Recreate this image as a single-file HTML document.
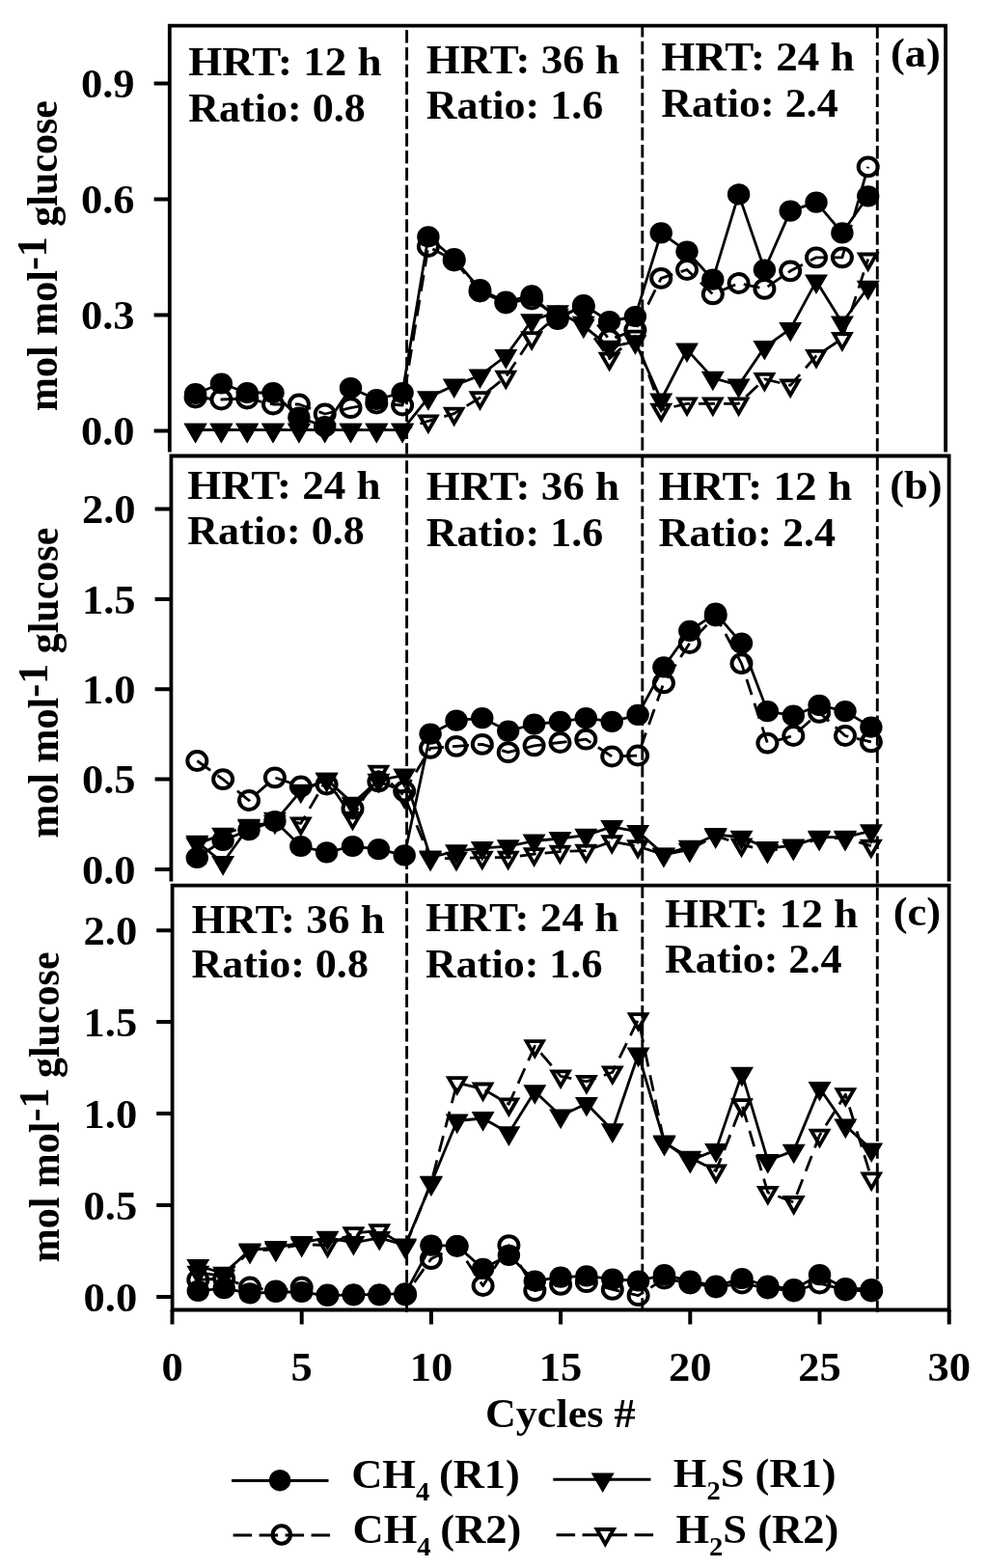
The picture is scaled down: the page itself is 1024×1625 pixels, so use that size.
<!DOCTYPE html><html><head><meta charset="utf-8"><title>Figure</title><style>html,body{margin:0;padding:0;background:#fff;}svg{display:block}text{font-family:"Liberation Serif","Times New Roman",serif;font-weight:bold;}</style></head><body>
<svg width="1024" height="1625" viewBox="0 0 1024 1625">
<rect width="1024" height="1625" fill="#fff"/>
<g fill="none" stroke="#000" stroke-width="2.8" stroke-linejoin="round">
<polyline points="202.6,445.6 229.4,445.6 256.2,445.6 283,445.6 309.9,445.6 336.7,445.6 363.5,445.6 390.3,445.6 417.1,445.6 443.9,436.3 470.7,428.6 497.5,412.1 524.3,390.6 551.1,350.1 578,326.6 604.8,334.6 631.6,371.6 658.4,348.6 685.2,424.6 712,418.3 738.8,418.3 765.6,418.3 792.4,392.9 819.2,399.3 846,368.8 872.9,351 899.7,268.5" stroke-dasharray="17 9"/>
</g>
<path fill="none" stroke="#000" stroke-width="3.8" stroke-linejoin="miter" d="M193.9 440.6h17.4l-8.7 15.1zM220.7 440.6h17.4l-8.7 15.1zM247.5 440.6h17.4l-8.7 15.1zM274.3 440.6h17.4l-8.7 15.1zM301.2 440.6h17.4l-8.7 15.1zM328 440.6h17.4l-8.7 15.1zM354.8 440.6h17.4l-8.7 15.1zM381.6 440.6h17.4l-8.7 15.1zM408.4 440.6h17.4l-8.7 15.1zM435.2 431.3h17.4l-8.7 15.1zM462 423.6h17.4l-8.7 15.1zM488.8 407.1h17.4l-8.7 15.1zM515.6 385.6h17.4l-8.7 15.1zM542.4 345.1h17.4l-8.7 15.1zM569.2 321.6h17.4l-8.7 15.1zM596.1 329.6h17.4l-8.7 15.1zM622.9 366.6h17.4l-8.7 15.1zM649.7 343.6h17.4l-8.7 15.1zM676.5 419.6h17.4l-8.7 15.1zM703.3 413.3h17.4l-8.7 15.1zM730.1 413.3h17.4l-8.7 15.1zM756.9 413.3h17.4l-8.7 15.1zM783.7 387.9h17.4l-8.7 15.1zM810.5 394.3h17.4l-8.7 15.1zM837.3 363.8h17.4l-8.7 15.1zM864.2 346h17.4l-8.7 15.1zM891 263.5h17.4l-8.7 15.1z"/>
<polyline fill="none" stroke="#000" stroke-width="2.8" stroke-linejoin="round" points="202.6,445.6 229.4,445.6 256.2,445.6 283,445.6 309.9,445.6 336.7,445.6 363.5,445.6 390.3,445.6 417.1,445.6 443.9,412.1 470.7,399.4 497.5,389.3 524.3,369 551.1,332.1 578,323.1 604.8,337.6 631.6,359.6 658.4,354.1 685.2,414.5 712,362.4 738.8,391.6 765.6,399.3 792.4,359.9 819.2,340.9 846,291.3 872.9,334.5 899.7,297.7"/>
<path fill="#000" d="M190.6 438.7h24l-12 20.6zM217.4 438.7h24l-12 20.6zM244.2 438.7h24l-12 20.6zM271 438.7h24l-12 20.6zM297.9 438.7h24l-12 20.6zM324.7 438.7h24l-12 20.6zM351.5 438.7h24l-12 20.6zM378.3 438.7h24l-12 20.6zM405.1 438.7h24l-12 20.6zM431.9 405.2h24l-12 20.6zM458.7 392.5h24l-12 20.6zM485.5 382.4h24l-12 20.6zM512.3 362.1h24l-12 20.6zM539.1 325.2h24l-12 20.6zM566 316.2h24l-12 20.6zM592.8 330.7h24l-12 20.6zM619.6 352.7h24l-12 20.6zM646.4 347.2h24l-12 20.6zM673.2 407.6h24l-12 20.6zM700 355.5h24l-12 20.6zM726.8 384.7h24l-12 20.6zM753.6 392.4h24l-12 20.6zM780.4 353h24l-12 20.6zM807.2 334h24l-12 20.6zM834 284.4h24l-12 20.6zM860.9 327.6h24l-12 20.6zM887.7 290.8h24l-12 20.6z"/>
<polyline fill="none" stroke="#000" stroke-width="2.8" stroke-linejoin="round" stroke-dasharray="17 9" points="202.6,412 229.4,414 256.2,413 283,419 309.9,419 336.7,429 363.5,422.7 390.3,418 417.1,420 443.9,255.5 470.7,270 497.5,302 524.3,314 551.1,310 578,328 604.8,318 631.6,352 658.4,342 685.2,288.4 712,279.5 738.8,304.9 765.6,293.5 792.4,299.3 819.2,280.8 846,266.8 872.9,266.8 899.7,172.9"/>
<g fill="none" stroke="#000" stroke-width="4"><ellipse cx="202.6" cy="412" rx="10" ry="9.4"/><ellipse cx="229.4" cy="414" rx="10" ry="9.4"/><ellipse cx="256.2" cy="413" rx="10" ry="9.4"/><ellipse cx="283" cy="419" rx="10" ry="9.4"/><ellipse cx="309.9" cy="419" rx="10" ry="9.4"/><ellipse cx="336.7" cy="429" rx="10" ry="9.4"/><ellipse cx="363.5" cy="422.7" rx="10" ry="9.4"/><ellipse cx="390.3" cy="418" rx="10" ry="9.4"/><ellipse cx="417.1" cy="420" rx="10" ry="9.4"/><ellipse cx="443.9" cy="255.5" rx="10" ry="9.4"/><ellipse cx="470.7" cy="270" rx="10" ry="9.4"/><ellipse cx="497.5" cy="302" rx="10" ry="9.4"/><ellipse cx="524.3" cy="314" rx="10" ry="9.4"/><ellipse cx="551.1" cy="310" rx="10" ry="9.4"/><ellipse cx="578" cy="328" rx="10" ry="9.4"/><ellipse cx="604.8" cy="318" rx="10" ry="9.4"/><ellipse cx="631.6" cy="352" rx="10" ry="9.4"/><ellipse cx="658.4" cy="342" rx="10" ry="9.4"/><ellipse cx="685.2" cy="288.4" rx="10" ry="9.4"/><ellipse cx="712" cy="279.5" rx="10" ry="9.4"/><ellipse cx="738.8" cy="304.9" rx="10" ry="9.4"/><ellipse cx="765.6" cy="293.5" rx="10" ry="9.4"/><ellipse cx="792.4" cy="299.3" rx="10" ry="9.4"/><ellipse cx="819.2" cy="280.8" rx="10" ry="9.4"/><ellipse cx="846" cy="266.8" rx="10" ry="9.4"/><ellipse cx="872.9" cy="266.8" rx="10" ry="9.4"/><ellipse cx="899.7" cy="172.9" rx="10" ry="9.4"/></g>
<polyline fill="none" stroke="#000" stroke-width="2.8" stroke-linejoin="round" points="202.6,408 229.4,397.5 256.2,407 283,407 309.9,432.5 336.7,442 363.5,402 390.3,414 417.1,407 443.9,245.4 470.7,268.2 497.5,300 524.3,312.7 551.1,306.3 578,331 604.8,316 631.6,333 658.4,328 685.2,241.4 712,260.5 738.8,289.7 765.6,201.4 792.4,279.5 819.2,218.6 846,209.7 872.9,241.4 899.7,203.3"/>
<g fill="#000"><ellipse cx="202.6" cy="408" rx="11.7" ry="11.1"/><ellipse cx="229.4" cy="397.5" rx="11.7" ry="11.1"/><ellipse cx="256.2" cy="407" rx="11.7" ry="11.1"/><ellipse cx="283" cy="407" rx="11.7" ry="11.1"/><ellipse cx="309.9" cy="432.5" rx="11.7" ry="11.1"/><ellipse cx="336.7" cy="442" rx="11.7" ry="11.1"/><ellipse cx="363.5" cy="402" rx="11.7" ry="11.1"/><ellipse cx="390.3" cy="414" rx="11.7" ry="11.1"/><ellipse cx="417.1" cy="407" rx="11.7" ry="11.1"/><ellipse cx="443.9" cy="245.4" rx="11.7" ry="11.1"/><ellipse cx="470.7" cy="268.2" rx="11.7" ry="11.1"/><ellipse cx="497.5" cy="300" rx="11.7" ry="11.1"/><ellipse cx="524.3" cy="312.7" rx="11.7" ry="11.1"/><ellipse cx="551.1" cy="306.3" rx="11.7" ry="11.1"/><ellipse cx="578" cy="331" rx="11.7" ry="11.1"/><ellipse cx="604.8" cy="316" rx="11.7" ry="11.1"/><ellipse cx="631.6" cy="333" rx="11.7" ry="11.1"/><ellipse cx="658.4" cy="328" rx="11.7" ry="11.1"/><ellipse cx="685.2" cy="241.4" rx="11.7" ry="11.1"/><ellipse cx="712" cy="260.5" rx="11.7" ry="11.1"/><ellipse cx="738.8" cy="289.7" rx="11.7" ry="11.1"/><ellipse cx="765.6" cy="201.4" rx="11.7" ry="11.1"/><ellipse cx="792.4" cy="279.5" rx="11.7" ry="11.1"/><ellipse cx="819.2" cy="218.6" rx="11.7" ry="11.1"/><ellipse cx="846" cy="209.7" rx="11.7" ry="11.1"/><ellipse cx="872.9" cy="241.4" rx="11.7" ry="11.1"/><ellipse cx="899.7" cy="203.3" rx="11.7" ry="11.1"/></g>
<g fill="none" stroke="#000" stroke-width="2.8" stroke-linejoin="round">
<polyline points="204.3,874.6 231.1,864.6 258,855.6 284.9,848.6 311.8,853.3 338.6,807.6 365.5,847.6 392.4,799.6 419.2,825.1 446.1,889.6 473,889.6 499.8,888.6 526.7,888.6 553.6,885.1 580.5,882.6 607.3,881.6 634.2,872.1 661.1,877.1 687.9,885.6 714.8,880.6 741.7,866.1 768.5,875.4 795.4,881.6 822.3,878.6 849.1,868.6 876,868.6 902.9,876.7" stroke-dasharray="17 9"/>
</g>
<path fill="none" stroke="#000" stroke-width="3.8" stroke-linejoin="miter" d="M195.6 869.6h17.4l-8.7 15.1zM222.4 859.6h17.4l-8.7 15.1zM249.3 850.6h17.4l-8.7 15.1zM276.2 843.6h17.4l-8.7 15.1zM303.1 848.3h17.4l-8.7 15.1zM329.9 802.6h17.4l-8.7 15.1zM356.8 842.6h17.4l-8.7 15.1zM383.7 794.6h17.4l-8.7 15.1zM410.5 820.1h17.4l-8.7 15.1zM437.4 884.6h17.4l-8.7 15.1zM464.3 884.6h17.4l-8.7 15.1zM491.1 883.6h17.4l-8.7 15.1zM518 883.6h17.4l-8.7 15.1zM544.9 880.1h17.4l-8.7 15.1zM571.8 877.6h17.4l-8.7 15.1zM598.6 876.6h17.4l-8.7 15.1zM625.5 867.1h17.4l-8.7 15.1zM652.4 872.1h17.4l-8.7 15.1zM679.2 880.6h17.4l-8.7 15.1zM706.1 875.6h17.4l-8.7 15.1zM733 861.1h17.4l-8.7 15.1zM759.8 870.4h17.4l-8.7 15.1zM786.7 876.6h17.4l-8.7 15.1zM813.6 873.6h17.4l-8.7 15.1zM840.4 863.6h17.4l-8.7 15.1zM867.3 863.6h17.4l-8.7 15.1zM894.2 871.7h17.4l-8.7 15.1z"/>
<polyline fill="none" stroke="#000" stroke-width="2.8" stroke-linejoin="round" points="204.3,872.6 231.1,894 258,856.6 284.9,851.6 311.8,819.6 338.6,807.6 365.5,832.6 392.4,808.6 419.2,803.3 446.1,888.5 473,882.2 499.8,878.9 526.7,877.1 553.6,871.5 580.5,869 607.3,865.7 634.2,856.8 661.1,861.9 687.9,885.3 714.8,877.7 741.7,865 768.5,867.6 795.4,879 822.3,876.4 849.1,867.6 876,867.6 902.9,861.2"/>
<path fill="#000" d="M192.3 865.7h24l-12 20.6zM219.1 887.1h24l-12 20.6zM246 849.7h24l-12 20.6zM272.9 844.7h24l-12 20.6zM299.8 812.7h24l-12 20.6zM326.6 800.7h24l-12 20.6zM353.5 825.7h24l-12 20.6zM380.4 801.7h24l-12 20.6zM407.2 796.4h24l-12 20.6zM434.1 881.6h24l-12 20.6zM461 875.3h24l-12 20.6zM487.8 872h24l-12 20.6zM514.7 870.2h24l-12 20.6zM541.6 864.6h24l-12 20.6zM568.5 862.1h24l-12 20.6zM595.3 858.8h24l-12 20.6zM622.2 849.9h24l-12 20.6zM649.1 855h24l-12 20.6zM675.9 878.4h24l-12 20.6zM702.8 870.8h24l-12 20.6zM729.7 858.1h24l-12 20.6zM756.5 860.7h24l-12 20.6zM783.4 872.1h24l-12 20.6zM810.3 869.5h24l-12 20.6zM837.1 860.7h24l-12 20.6zM864 860.7h24l-12 20.6zM890.9 854.3h24l-12 20.6z"/>
<polyline fill="none" stroke="#000" stroke-width="2.8" stroke-linejoin="round" stroke-dasharray="17 9" points="204.3,788.5 231.1,807.6 258,829.5 284.9,805.8 311.8,815 338.6,813 365.5,838 392.4,810 419.2,820 446.1,775.4 473,773.3 499.8,771.3 526.7,779.7 553.6,772.8 580.5,769.5 607.3,766.2 634.2,784 661.1,783 687.9,707.9 714.8,666.5 741.7,638 768.5,687.6 795.4,770.1 822.3,762.5 849.1,738.4 876,762.5 902.9,768.9"/>
<g fill="none" stroke="#000" stroke-width="4"><ellipse cx="204.3" cy="788.5" rx="10" ry="9.4"/><ellipse cx="231.1" cy="807.6" rx="10" ry="9.4"/><ellipse cx="258" cy="829.5" rx="10" ry="9.4"/><ellipse cx="284.9" cy="805.8" rx="10" ry="9.4"/><ellipse cx="311.8" cy="815" rx="10" ry="9.4"/><ellipse cx="338.6" cy="813" rx="10" ry="9.4"/><ellipse cx="365.5" cy="838" rx="10" ry="9.4"/><ellipse cx="392.4" cy="810" rx="10" ry="9.4"/><ellipse cx="419.2" cy="820" rx="10" ry="9.4"/><ellipse cx="446.1" cy="775.4" rx="10" ry="9.4"/><ellipse cx="473" cy="773.3" rx="10" ry="9.4"/><ellipse cx="499.8" cy="771.3" rx="10" ry="9.4"/><ellipse cx="526.7" cy="779.7" rx="10" ry="9.4"/><ellipse cx="553.6" cy="772.8" rx="10" ry="9.4"/><ellipse cx="580.5" cy="769.5" rx="10" ry="9.4"/><ellipse cx="607.3" cy="766.2" rx="10" ry="9.4"/><ellipse cx="634.2" cy="784" rx="10" ry="9.4"/><ellipse cx="661.1" cy="783" rx="10" ry="9.4"/><ellipse cx="687.9" cy="707.9" rx="10" ry="9.4"/><ellipse cx="714.8" cy="666.5" rx="10" ry="9.4"/><ellipse cx="741.7" cy="638" rx="10" ry="9.4"/><ellipse cx="768.5" cy="687.6" rx="10" ry="9.4"/><ellipse cx="795.4" cy="770.1" rx="10" ry="9.4"/><ellipse cx="822.3" cy="762.5" rx="10" ry="9.4"/><ellipse cx="849.1" cy="738.4" rx="10" ry="9.4"/><ellipse cx="876" cy="762.5" rx="10" ry="9.4"/><ellipse cx="902.9" cy="768.9" rx="10" ry="9.4"/></g>
<polyline fill="none" stroke="#000" stroke-width="2.8" stroke-linejoin="round" points="204.3,889 231.1,871 258,860.2 284.9,851 311.8,877 338.6,883.3 365.5,877 392.4,880.2 419.2,886.4 446.1,760.6 473,746.7 499.8,744.1 526.7,757.6 553.6,750.5 580.5,747.9 607.3,744.1 634.2,747.9 661.1,740.8 687.9,691.4 714.8,653.8 741.7,635.6 768.5,666.5 795.4,737.1 822.3,741.7 849.1,730.8 876,737.1 902.9,753.6"/>
<g fill="#000"><ellipse cx="204.3" cy="889" rx="11.7" ry="11.1"/><ellipse cx="231.1" cy="871" rx="11.7" ry="11.1"/><ellipse cx="258" cy="860.2" rx="11.7" ry="11.1"/><ellipse cx="284.9" cy="851" rx="11.7" ry="11.1"/><ellipse cx="311.8" cy="877" rx="11.7" ry="11.1"/><ellipse cx="338.6" cy="883.3" rx="11.7" ry="11.1"/><ellipse cx="365.5" cy="877" rx="11.7" ry="11.1"/><ellipse cx="392.4" cy="880.2" rx="11.7" ry="11.1"/><ellipse cx="419.2" cy="886.4" rx="11.7" ry="11.1"/><ellipse cx="446.1" cy="760.6" rx="11.7" ry="11.1"/><ellipse cx="473" cy="746.7" rx="11.7" ry="11.1"/><ellipse cx="499.8" cy="744.1" rx="11.7" ry="11.1"/><ellipse cx="526.7" cy="757.6" rx="11.7" ry="11.1"/><ellipse cx="553.6" cy="750.5" rx="11.7" ry="11.1"/><ellipse cx="580.5" cy="747.9" rx="11.7" ry="11.1"/><ellipse cx="607.3" cy="744.1" rx="11.7" ry="11.1"/><ellipse cx="634.2" cy="747.9" rx="11.7" ry="11.1"/><ellipse cx="661.1" cy="740.8" rx="11.7" ry="11.1"/><ellipse cx="687.9" cy="691.4" rx="11.7" ry="11.1"/><ellipse cx="714.8" cy="653.8" rx="11.7" ry="11.1"/><ellipse cx="741.7" cy="635.6" rx="11.7" ry="11.1"/><ellipse cx="768.5" cy="666.5" rx="11.7" ry="11.1"/><ellipse cx="795.4" cy="737.1" rx="11.7" ry="11.1"/><ellipse cx="822.3" cy="741.7" rx="11.7" ry="11.1"/><ellipse cx="849.1" cy="730.8" rx="11.7" ry="11.1"/><ellipse cx="876" cy="737.1" rx="11.7" ry="11.1"/><ellipse cx="902.9" cy="753.6" rx="11.7" ry="11.1"/></g>
<g fill="none" stroke="#000" stroke-width="2.8" stroke-linejoin="round">
<polyline points="205.3,1318.6 232.2,1322.6 259,1296.6 285.9,1294.6 312.7,1289.6 339.5,1290.6 366.4,1278.2 393.2,1275.2 420.1,1291.6 446.9,1225.6 473.7,1122.2 500.6,1128.5 527.4,1144.3 554.3,1084.1 581.1,1115.3 607.9,1120.9 634.8,1111.3 661.6,1056.2 688.5,1184.6 715.3,1199.6 742.1,1213.5 769,1145.2 795.8,1235.8 822.7,1246 849.5,1176.6 876.3,1134.2 903.2,1221.3" stroke-dasharray="17 9"/>
</g>
<path fill="none" stroke="#000" stroke-width="3.8" stroke-linejoin="miter" d="M196.6 1313.6h17.4l-8.7 15.1zM223.5 1317.6h17.4l-8.7 15.1zM250.3 1291.6h17.4l-8.7 15.1zM277.2 1289.6h17.4l-8.7 15.1zM304 1284.6h17.4l-8.7 15.1zM330.8 1285.6h17.4l-8.7 15.1zM357.7 1273.2h17.4l-8.7 15.1zM384.5 1270.2h17.4l-8.7 15.1zM411.4 1286.6h17.4l-8.7 15.1zM438.2 1220.6h17.4l-8.7 15.1zM465 1117.2h17.4l-8.7 15.1zM491.9 1123.5h17.4l-8.7 15.1zM518.7 1139.3h17.4l-8.7 15.1zM545.6 1079.1h17.4l-8.7 15.1zM572.4 1110.3h17.4l-8.7 15.1zM599.2 1115.9h17.4l-8.7 15.1zM626.1 1106.3h17.4l-8.7 15.1zM652.9 1051.2h17.4l-8.7 15.1zM679.8 1179.6h17.4l-8.7 15.1zM706.6 1194.6h17.4l-8.7 15.1zM733.4 1208.5h17.4l-8.7 15.1zM760.3 1140.2h17.4l-8.7 15.1zM787.1 1230.8h17.4l-8.7 15.1zM814 1241h17.4l-8.7 15.1zM840.8 1171.6h17.4l-8.7 15.1zM867.6 1129.2h17.4l-8.7 15.1zM894.5 1216.3h17.4l-8.7 15.1z"/>
<polyline fill="none" stroke="#000" stroke-width="2.8" stroke-linejoin="round" points="205.3,1312 232.2,1319.6 259,1295.5 285.9,1293 312.7,1287.9 339.5,1282.6 366.4,1287.9 393.2,1282.8 420.1,1290.4 446.9,1226.3 473.7,1161.5 500.6,1159 527.4,1174.2 554.3,1131.1 581.1,1156.5 607.9,1143.8 634.8,1171.2 661.6,1092.5 688.5,1183.3 715.3,1202.8 742.1,1191.9 769,1112.7 795.8,1202.8 822.7,1192.6 849.5,1127.9 876.3,1166.5 903.2,1191.4"/>
<path fill="#000" d="M193.3 1305.1h24l-12 20.6zM220.2 1312.7h24l-12 20.6zM247 1288.6h24l-12 20.6zM273.9 1286.1h24l-12 20.6zM300.7 1281h24l-12 20.6zM327.5 1275.7h24l-12 20.6zM354.4 1281h24l-12 20.6zM381.2 1275.9h24l-12 20.6zM408.1 1283.5h24l-12 20.6zM434.9 1219.4h24l-12 20.6zM461.7 1154.6h24l-12 20.6zM488.6 1152.1h24l-12 20.6zM515.4 1167.3h24l-12 20.6zM542.3 1124.2h24l-12 20.6zM569.1 1149.6h24l-12 20.6zM595.9 1136.9h24l-12 20.6zM622.8 1164.3h24l-12 20.6zM649.6 1085.6h24l-12 20.6zM676.5 1176.4h24l-12 20.6zM703.3 1195.9h24l-12 20.6zM730.1 1185h24l-12 20.6zM757 1105.8h24l-12 20.6zM783.8 1195.9h24l-12 20.6zM810.7 1185.7h24l-12 20.6zM837.5 1121h24l-12 20.6zM864.3 1159.6h24l-12 20.6zM891.2 1184.5h24l-12 20.6z"/>
<polyline fill="none" stroke="#000" stroke-width="2.8" stroke-linejoin="round" stroke-dasharray="17 9" points="205.3,1326.3 232.2,1325 259,1334 285.9,1337.8 312.7,1334 339.5,1342 366.4,1342 393.2,1342 420.1,1342 446.9,1304.6 473.7,1291.5 500.6,1332.5 527.4,1290.6 554.3,1337.6 581.1,1331.3 607.9,1328.7 634.8,1336.3 661.6,1342.7 688.5,1325 715.3,1330 742.1,1334 769,1330 795.8,1335 822.7,1338 849.5,1330 876.3,1337 903.2,1338"/>
<g fill="none" stroke="#000" stroke-width="4"><ellipse cx="205.3" cy="1326.3" rx="10" ry="9.4"/><ellipse cx="232.2" cy="1325" rx="10" ry="9.4"/><ellipse cx="259" cy="1334" rx="10" ry="9.4"/><ellipse cx="285.9" cy="1337.8" rx="10" ry="9.4"/><ellipse cx="312.7" cy="1334" rx="10" ry="9.4"/><ellipse cx="339.5" cy="1342" rx="10" ry="9.4"/><ellipse cx="366.4" cy="1342" rx="10" ry="9.4"/><ellipse cx="393.2" cy="1342" rx="10" ry="9.4"/><ellipse cx="420.1" cy="1342" rx="10" ry="9.4"/><ellipse cx="446.9" cy="1304.6" rx="10" ry="9.4"/><ellipse cx="473.7" cy="1291.5" rx="10" ry="9.4"/><ellipse cx="500.6" cy="1332.5" rx="10" ry="9.4"/><ellipse cx="527.4" cy="1290.6" rx="10" ry="9.4"/><ellipse cx="554.3" cy="1337.6" rx="10" ry="9.4"/><ellipse cx="581.1" cy="1331.3" rx="10" ry="9.4"/><ellipse cx="607.9" cy="1328.7" rx="10" ry="9.4"/><ellipse cx="634.8" cy="1336.3" rx="10" ry="9.4"/><ellipse cx="661.6" cy="1342.7" rx="10" ry="9.4"/><ellipse cx="688.5" cy="1325" rx="10" ry="9.4"/><ellipse cx="715.3" cy="1330" rx="10" ry="9.4"/><ellipse cx="742.1" cy="1334" rx="10" ry="9.4"/><ellipse cx="769" cy="1330" rx="10" ry="9.4"/><ellipse cx="795.8" cy="1335" rx="10" ry="9.4"/><ellipse cx="822.7" cy="1338" rx="10" ry="9.4"/><ellipse cx="849.5" cy="1330" rx="10" ry="9.4"/><ellipse cx="876.3" cy="1337" rx="10" ry="9.4"/><ellipse cx="903.2" cy="1338" rx="10" ry="9.4"/></g>
<polyline fill="none" stroke="#000" stroke-width="2.8" stroke-linejoin="round" points="205.3,1337.8 232.2,1335.2 259,1340.3 285.9,1339 312.7,1339 339.5,1342.8 366.4,1341.6 393.2,1341.6 420.1,1340.3 446.9,1290.6 473.7,1291.1 500.6,1314.8 527.4,1300.8 554.3,1327.5 581.1,1323.6 607.9,1322.4 634.8,1325.7 661.6,1327.5 688.5,1321.2 715.3,1327.6 742.1,1332.7 769,1325 795.8,1332.7 822.7,1336 849.5,1321.2 876.3,1335.2 903.2,1336"/>
<g fill="#000"><ellipse cx="205.3" cy="1337.8" rx="11.7" ry="11.1"/><ellipse cx="232.2" cy="1335.2" rx="11.7" ry="11.1"/><ellipse cx="259" cy="1340.3" rx="11.7" ry="11.1"/><ellipse cx="285.9" cy="1339" rx="11.7" ry="11.1"/><ellipse cx="312.7" cy="1339" rx="11.7" ry="11.1"/><ellipse cx="339.5" cy="1342.8" rx="11.7" ry="11.1"/><ellipse cx="366.4" cy="1341.6" rx="11.7" ry="11.1"/><ellipse cx="393.2" cy="1341.6" rx="11.7" ry="11.1"/><ellipse cx="420.1" cy="1340.3" rx="11.7" ry="11.1"/><ellipse cx="446.9" cy="1290.6" rx="11.7" ry="11.1"/><ellipse cx="473.7" cy="1291.1" rx="11.7" ry="11.1"/><ellipse cx="500.6" cy="1314.8" rx="11.7" ry="11.1"/><ellipse cx="527.4" cy="1300.8" rx="11.7" ry="11.1"/><ellipse cx="554.3" cy="1327.5" rx="11.7" ry="11.1"/><ellipse cx="581.1" cy="1323.6" rx="11.7" ry="11.1"/><ellipse cx="607.9" cy="1322.4" rx="11.7" ry="11.1"/><ellipse cx="634.8" cy="1325.7" rx="11.7" ry="11.1"/><ellipse cx="661.6" cy="1327.5" rx="11.7" ry="11.1"/><ellipse cx="688.5" cy="1321.2" rx="11.7" ry="11.1"/><ellipse cx="715.3" cy="1327.6" rx="11.7" ry="11.1"/><ellipse cx="742.1" cy="1332.7" rx="11.7" ry="11.1"/><ellipse cx="769" cy="1325" rx="11.7" ry="11.1"/><ellipse cx="795.8" cy="1332.7" rx="11.7" ry="11.1"/><ellipse cx="822.7" cy="1336" rx="11.7" ry="11.1"/><ellipse cx="849.5" cy="1321.2" rx="11.7" ry="11.1"/><ellipse cx="876.3" cy="1335.2" rx="11.7" ry="11.1"/><ellipse cx="903.2" cy="1336" rx="11.7" ry="11.1"/></g>
<line x1="421.6" y1="31.1" x2="421.6" y2="470.5" stroke="#000" stroke-width="2.9" stroke-dasharray="13.5 4.34"/>
<line x1="665.8" y1="25" x2="665.8" y2="470.5" stroke="#000" stroke-width="2.9" stroke-dasharray="13.5 4.34"/>
<line x1="909.3" y1="26.2" x2="909.3" y2="470.5" stroke="#000" stroke-width="2.9" stroke-dasharray="13.5 4.34"/>
<line x1="421.6" y1="477.2" x2="421.6" y2="915.5" stroke="#000" stroke-width="2.9" stroke-dasharray="13.5 4.34"/>
<line x1="665.8" y1="471" x2="665.8" y2="915.5" stroke="#000" stroke-width="2.9" stroke-dasharray="13.5 4.34"/>
<line x1="909.3" y1="473.9" x2="909.3" y2="915.5" stroke="#000" stroke-width="2.9" stroke-dasharray="13.5 4.34"/>
<line x1="421.6" y1="923.4" x2="421.6" y2="1360" stroke="#000" stroke-width="2.9" stroke-dasharray="13.5 4.34"/>
<line x1="665.8" y1="917.2" x2="665.8" y2="1360" stroke="#000" stroke-width="2.9" stroke-dasharray="13.5 4.34"/>
<line x1="909.3" y1="919.7" x2="909.3" y2="1360" stroke="#000" stroke-width="2.9" stroke-dasharray="13.5 4.34"/>
<path fill="none" stroke="#000" stroke-width="3.8" stroke-linejoin="miter" stroke-linecap="butt" d="M175.8 468.5V26.6H980.1V468.5"/>
<path fill="none" stroke="#000" stroke-width="3.8" stroke-linejoin="miter" stroke-linecap="butt" d="M177.4 913.5V472.5H983.6V913.5"/>
<path fill="none" stroke="#000" stroke-width="3.8" stroke-linejoin="miter" stroke-linecap="butt" d="M178.6 917.7H983.6V1357.5H178.6z"/>
<path stroke="#000" stroke-width="4" d="M159.6 86.4H175.8M159.6 206.4H175.8M159.6 326.5H175.8M159.6 446.6H175.8"/>
<text transform="translate(139.6 101) scale(1.06 1)" font-size="42" text-anchor="end">0.9</text>
<text transform="translate(139.6 221) scale(1.06 1)" font-size="42" text-anchor="end">0.6</text>
<text transform="translate(139.6 341.1) scale(1.06 1)" font-size="42" text-anchor="end">0.3</text>
<text transform="translate(139.6 461.2) scale(1.06 1)" font-size="42" text-anchor="end">0.0</text>
<path stroke="#000" stroke-width="4" d="M160.6 527.6H177.4M160.6 620.9H177.4M160.6 714.3H177.4M160.6 807.6H177.4M160.6 900.9H177.4"/>
<text transform="translate(140.6 542.2) scale(1.06 1)" font-size="42" text-anchor="end">2.0</text>
<text transform="translate(140.6 635.5) scale(1.06 1)" font-size="42" text-anchor="end">1.5</text>
<text transform="translate(140.6 728.9) scale(1.06 1)" font-size="42" text-anchor="end">1.0</text>
<text transform="translate(140.6 822.2) scale(1.06 1)" font-size="42" text-anchor="end">0.5</text>
<text transform="translate(140.6 915.5) scale(1.06 1)" font-size="42" text-anchor="end">0.0</text>
<path stroke="#000" stroke-width="4" d="M162.2 964.2H178.6M162.2 1059.1H178.6M162.2 1154.1H178.6M162.2 1249.1H178.6M162.2 1344.1H178.6"/>
<text transform="translate(142.2 978.8) scale(1.06 1)" font-size="42" text-anchor="end">2.0</text>
<text transform="translate(142.2 1073.7) scale(1.06 1)" font-size="42" text-anchor="end">1.5</text>
<text transform="translate(142.2 1168.7) scale(1.06 1)" font-size="42" text-anchor="end">1.0</text>
<text transform="translate(142.2 1263.7) scale(1.06 1)" font-size="42" text-anchor="end">0.5</text>
<text transform="translate(142.2 1358.7) scale(1.06 1)" font-size="42" text-anchor="end">0.0</text>
<path stroke="#000" stroke-width="4" d="M178.5 1357.5V1372.5M312.7 1357.5V1372.5M446.9 1357.5V1372.5M581.1 1357.5V1372.5M715.3 1357.5V1372.5M849.5 1357.5V1372.5M983.7 1357.5V1372.5"/>
<text transform="translate(178.5 1430.5) scale(1.06 1)" font-size="42" text-anchor="middle">0</text>
<text transform="translate(312.7 1430.5) scale(1.06 1)" font-size="42" text-anchor="middle">5</text>
<text transform="translate(446.9 1430.5) scale(1.06 1)" font-size="42" text-anchor="middle">10</text>
<text transform="translate(581.1 1430.5) scale(1.06 1)" font-size="42" text-anchor="middle">15</text>
<text transform="translate(715.3 1430.5) scale(1.06 1)" font-size="42" text-anchor="middle">20</text>
<text transform="translate(849.5 1430.5) scale(1.06 1)" font-size="42" text-anchor="middle">25</text>
<text transform="translate(983.7 1430.5) scale(1.06 1)" font-size="42" text-anchor="middle">30</text>
<text transform="translate(502.9 1478.5) scale(1.051 1)" font-size="42">Cycles #</text>
<text transform="translate(195.2 78) scale(1.073 1)" font-size="42">HRT: 12 h</text>
<text transform="translate(195.2 125.6) scale(1.049 1)" font-size="42">Ratio: 0.8</text>
<text transform="translate(441.7 75.9) scale(1.073 1)" font-size="42">HRT: 36 h</text>
<text transform="translate(441.7 123) scale(1.049 1)" font-size="42">Ratio: 1.6</text>
<text transform="translate(685.2 72.7) scale(1.073 1)" font-size="42">HRT: 24 h</text>
<text transform="translate(685.2 120.6) scale(1.049 1)" font-size="42">Ratio: 2.4</text>
<text transform="translate(194.3 517.4) scale(1.073 1)" font-size="42">HRT: 24 h</text>
<text transform="translate(194.3 563.7) scale(1.049 1)" font-size="42">Ratio: 0.8</text>
<text transform="translate(441.7 518) scale(1.073 1)" font-size="42">HRT: 36 h</text>
<text transform="translate(441.7 566) scale(1.049 1)" font-size="42">Ratio: 1.6</text>
<text transform="translate(682.6 518) scale(1.073 1)" font-size="42">HRT: 12 h</text>
<text transform="translate(682.6 566.3) scale(1.049 1)" font-size="42">Ratio: 2.4</text>
<text transform="translate(198.4 966.5) scale(1.073 1)" font-size="42">HRT: 36 h</text>
<text transform="translate(198.4 1013.4) scale(1.049 1)" font-size="42">Ratio: 0.8</text>
<text transform="translate(440.9 964.8) scale(1.073 1)" font-size="42">HRT: 24 h</text>
<text transform="translate(440.9 1012.5) scale(1.049 1)" font-size="42">Ratio: 1.6</text>
<text transform="translate(688.9 960.9) scale(1.073 1)" font-size="42">HRT: 12 h</text>
<text transform="translate(688.9 1008.4) scale(1.049 1)" font-size="42">Ratio: 2.4</text>
<text transform="translate(923 69.4) scale(1.06 1)" font-size="42">(a)</text>
<text transform="translate(922.2 517) scale(1.06 1)" font-size="42">(b)</text>
<text transform="translate(925.7 959.3) scale(1.06 1)" font-size="42">(c)</text>
<text transform="translate(58.7 425.9) rotate(-90) scale(1 1.06)" font-size="42">mol mol<tspan dy="-10.2">-1</tspan><tspan dy="10.2"> glucose</tspan></text>
<text transform="translate(60 868.6) rotate(-90) scale(1 1.06)" font-size="42">mol mol<tspan dy="-10.2">-1</tspan><tspan dy="10.2"> glucose</tspan></text>
<text transform="translate(61 1308.3) rotate(-90) scale(1 1.06)" font-size="42">mol mol<tspan dy="-10.2">-1</tspan><tspan dy="10.2"> glucose</tspan></text>
<path stroke="#000" stroke-width="3" d="M240 1534.5H340.5"/>
<circle cx="290.1" cy="1534.2" r="11.2" fill="#000"/>
<path stroke="#000" stroke-width="3" stroke-dasharray="19.5 7.5" d="M241.6 1591H343"/>
<circle cx="291.8" cy="1590.5" r="9.2" fill="none" stroke="#000" stroke-width="4"/>
<path stroke="#000" stroke-width="3" d="M573.3 1533.2H674.5"/>
<path fill="#000" d="M612.7 1526.6h24l-12 20.4z"/>
<path stroke="#000" stroke-width="3" stroke-dasharray="19.5 7.5" d="M576.6 1590.7H678"/>
<path fill="none" stroke="#000" stroke-width="3.8" d="M618.6 1585h17.4l-8.7 15.1z"/>
<text transform="translate(364.2 1541.8) scale(1.06 1)" font-size="42">CH<tspan font-size="27" dy="13">4</tspan><tspan dy="-13" dx="-1.4"> (R1)</tspan></text>
<text transform="translate(365.6 1598.8) scale(1.06 1)" font-size="42">CH<tspan font-size="27" dy="13">4</tspan><tspan dy="-13" dx="-1.4"> (R2)</tspan></text>
<text transform="translate(697.8 1540.8) scale(1.06 1)" font-size="42">H<tspan font-size="27" dy="13">2</tspan><tspan dy="-13" dx="0">S (R1)</tspan></text>
<text transform="translate(700.4 1598.6) scale(1.06 1)" font-size="42">H<tspan font-size="27" dy="13">2</tspan><tspan dy="-13" dx="0">S (R2)</tspan></text>
</svg></body></html>
